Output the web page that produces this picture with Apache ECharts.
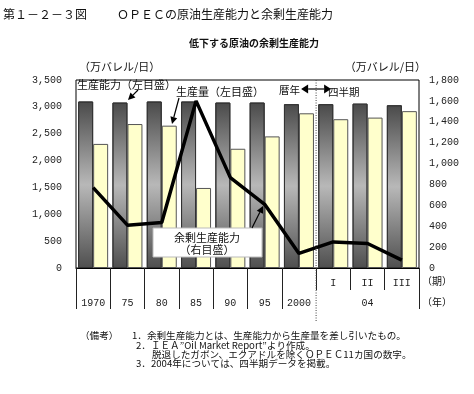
<!DOCTYPE html>
<html><head><meta charset="utf-8">
<script src="https://cdn.jsdelivr.net/npm/echarts@6/dist/echarts.min.js"></script>
<style>html,body{margin:0;padding:0;background:#fff}#c{width:474px;height:394px}</style>
</head><body><div id="c"></div>
<script>
// ---- data ----
const categories = ['1970','75','80','85','90','95','2000','I','II','III'];
const quarterLabels = ['','','','','','','','I','II','III'];
const yearLabels = ['1970','75','80','85','90','95','2000','','04',''];
const capacity = [3100,3080,3100,3100,3080,3080,3050,3050,3060,3030];       // 生産能力 (左目盛)
const production = [2310,2680,2650,1490,2220,2450,2880,2770,2800,2920];     // 生産量 (左目盛)
const spareCapacity = [770,410,435,1600,865,610,140,250,235,76];            // 余剰生産能力 (右目盛)
const leftAxis = {min:0, max:3500, interval:500};
const rightAxis = {min:0, max:1800, interval:200};

const JP = "'Noto Sans CJK JP', sans-serif";
const MONO = "'Liberation Mono', monospace";
const chart = echarts.init(document.getElementById('c'), null, {renderer:'canvas'});
const fmt = v => v.toLocaleString('en-US');

chart.setOption({
  animation:false,
  backgroundColor:'#fff',
  title:[
    {text:'第１－２－３図', left:3, top:8, padding:0, textStyle:{fontFamily:JP, fontSize:12, fontWeight:'normal', color:'#111'}},
    {text:'ＯＰＥＣの原油生産能力と余剰生産能力', left:117, top:8, padding:0, textStyle:{fontFamily:JP, fontSize:12, fontWeight:'normal', color:'#111'}},
    {text:'低下する原油の余剰生産能力', left:189, top:38, padding:0, textStyle:{fontFamily:JP, fontSize:10, fontWeight:'bold', color:'#111'}}
  ],
  grid:{left:76, right:55, top:80, bottom:126, show:true, borderColor:'#000', borderWidth:1, backgroundColor:'#fff'},
  xAxis:[
    {type:'category', data:categories, position:'bottom',
     axisLine:{show:true, lineStyle:{color:'#000', width:1}},
     axisTick:{show:true, length:22, interval:0, lineStyle:{color:'#222'}},
     axisLabel:{interval:0, margin:10, formatter:(v,i)=>quarterLabels[i], fontFamily:MONO, fontSize:10, color:'#222'}},
    {type:'category', data:categories, position:'bottom', offset:0,
     axisLine:{show:false},
     axisTick:{show:true, length:41, interval:(i)=>i<=6, lineStyle:{color:'#222'}},
     axisLabel:{interval:0, margin:30, formatter:(v,i)=>yearLabels[i], fontFamily:MONO, fontSize:10, color:'#222'}}
  ],
  yAxis:[
    {type:'value', min:leftAxis.min, max:leftAxis.max, interval:leftAxis.interval, position:'left',
     axisLine:{show:false}, axisTick:{show:false}, splitLine:{show:false},
     axisLabel:{margin:14, formatter:fmt, fontFamily:MONO, fontSize:10, color:'#222'}},
    {type:'value', min:rightAxis.min, max:rightAxis.max, interval:rightAxis.interval, position:'right',
     axisLine:{show:false}, axisTick:{show:false}, splitLine:{show:false},
     axisLabel:{margin:10, formatter:fmt, fontFamily:MONO, fontSize:10, color:'#222'}}
  ],
  series:[
    {name:'生産能力', type:'bar', xAxisIndex:0, yAxisIndex:0, data:capacity, barWidth:15, barGap:'0%',
     itemStyle:{color:new echarts.graphic.LinearGradient(0,0,0,1,[
       {offset:0,color:'#4a4a4a'},{offset:0.5,color:'#b8b8b8'},{offset:1,color:'#4f4f4f'}]),
       borderColor:'#333', borderWidth:1}},
    {name:'生産量', type:'bar', xAxisIndex:0, yAxisIndex:0, data:production, barWidth:15, barGap:'0%',
     itemStyle:{color:'#ffffcc', borderColor:'#555', borderWidth:1}},
    {name:'余剰生産能力', type:'line', xAxisIndex:0, yAxisIndex:1, data:spareCapacity, symbol:'none', z:5,
     lineStyle:{color:'#000', width:3.5}}
  ]
});

function arrow(x1,y1,x2,y2,h,w){
  const a=Math.atan2(y2-y1,x2-x1), c=Math.cos(a), s=Math.sin(a);
  const bx=x2-h*c, by=y2-h*s;
  return [
    {type:'line', shape:{x1:x1,y1:y1,x2:bx,y2:by}, style:{stroke:'#000', lineWidth:1.2}, z:20},
    {type:'polygon', shape:{points:[[x2,y2],[bx-w*s,by+w*c],[bx+w*s,by-w*c]]}, style:{fill:'#000'}, z:20}
  ];
}
const txt=(x,y,t,size,align)=>({type:'text', x:x, y:y, z:25,
  style:{text:t, fontFamily:JP, fontSize:size, fill:'#111', textVerticalAlign:'middle', textAlign:align||'left'}});

const bx = (chart.convertToPixel({xAxisIndex:0}, 6) + chart.convertToPixel({xAxisIndex:0}, 7))/2;
const topY = chart.convertToPixel({yAxisIndex:0}, leftAxis.max);
const g = [];
g.push({type:'line', shape:{x1:bx,y1:topY,x2:bx,y2:322}, style:{stroke:'#444', lineWidth:1, lineDash:[1,1.5]}, z:15});
g.push(txt(79,67,'（万バレル/日）',11));
g.push(txt(426,67,'（万バレル/日）',11,'right'));
g.push(txt(77,85,'生産能力（左目盛）',11));
g.push(...arrow(138,90,128,100,7,3.5));
g.push(txt(176,92,'生産量（左目盛）',11));
g.push(...arrow(179,98,172,124,7,3.5));
g.push(txt(279,90,'暦年',10.5));
g.push(...arrow(bx,89,bx-15,89,7,4.5));
g.push(...arrow(bx,89,bx+15,89,7,4.5));
g.push(txt(328,92,'四半期',10.5));
g.push({type:'rect', shape:{x:153,y:228,width:109,height:29}, style:{fill:'#fff', stroke:'#bbb', lineWidth:1}, z:18});
g.push(txt(207,238,'余剰生産能力',11,'center'));
g.push(txt(207,250,'（右目盛）',11,'center'));
g.push(...arrow(252,228,263,206,7,3.5));
g.push(txt(422,281,'（期）',10));
g.push(txt(422,302,'（年）',10));
g.push(txt(80,335,'（備考）',9.6));
g.push(txt(132,335,'1．余剰生産能力とは、生産能力から生産量を差し引いたもの。',9.6));
g.push(txt(136,345,'2．ＩＥＡ”Oil Market Report”より作成。',9.6));
g.push(txt(152,354,'脱退したガボン、エクアドルを除くＯＰＥＣ11カ国の数字。',9.6));
g.push(txt(136,363,'3．2004年については、四半期データを掲載。',9.6));
chart.setOption({graphic:g});
</script></body></html>
